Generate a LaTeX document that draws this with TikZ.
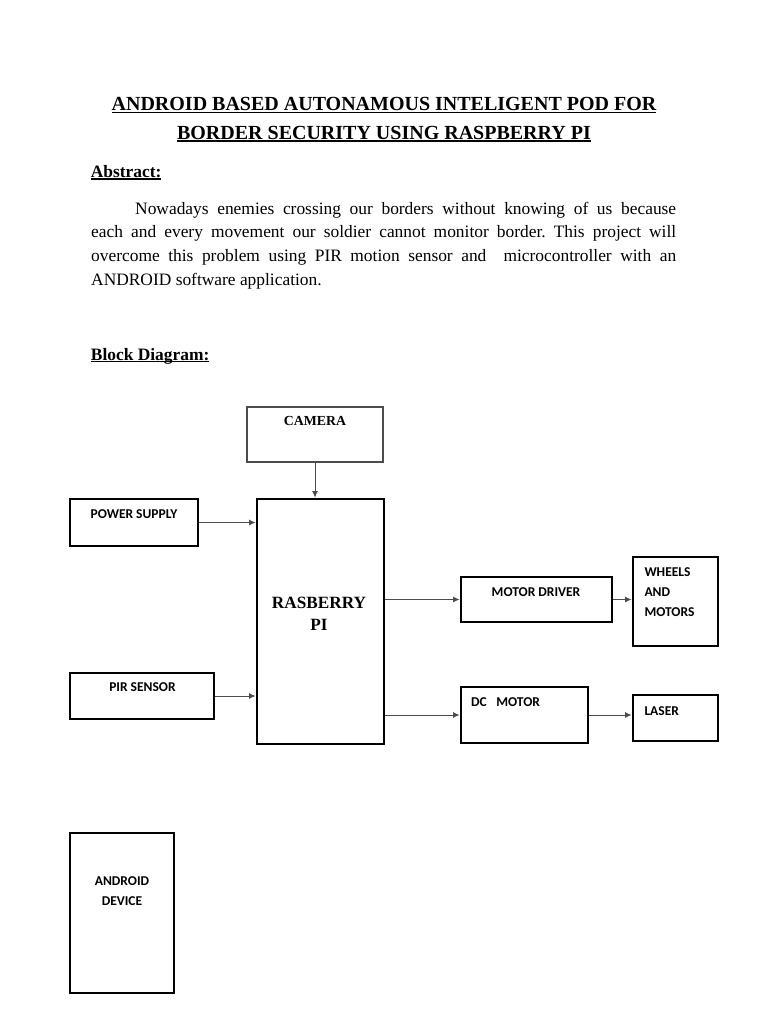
\documentclass[tikz,border=0pt]{standalone}
\usepackage{fontspec}
\setmainfont{Liberation Serif}
\newfontfamily\lblfont{Carlito}
\usetikzlibrary{arrows.meta}
\newsavebox\myulbox
\newcommand\myul[1]{\sbox\myulbox{#1}\rlap{\rule[-2.4pt]{\wd\myulbox}{1.2pt}}\usebox\myulbox}
\frenchspacing
\begin{document}
\begin{tikzpicture}[x=1pt,y=-1pt,
  blk/.style={draw=black,line width=2.8pt,rectangle,inner sep=0pt},
  thinblk/.style={draw=black!70,line width=1.2pt,rectangle,inner sep=0pt},
  lbl/.style={font=\lblfont\bfseries\fontsize{13.5}{20}\selectfont,inner sep=0pt,anchor=base},
  lblw/.style={lbl,anchor=base west},
  serlbl/.style={font=\bfseries\fontsize{13.8}{18}\selectfont,inner sep=0pt,anchor=base},
  bigl/.style={font=\bfseries\fontsize{17.2}{22}\selectfont,inner sep=0pt,anchor=base},
  ttl/.style={font=\bfseries\fontsize{20}{28}\selectfont,inner sep=0pt,anchor=base},
  head/.style={font=\bfseries\fontsize{17.4}{23.6}\selectfont,inner sep=0pt,anchor=base west},
  body/.style={font=\fontsize{17.4}{23.6}\selectfont,inner sep=0pt,anchor=base west},
  arr/.style={-{Latex[length=6.5pt,width=6pt]},line width=1pt,draw=black!70}]
\useasboundingbox[fill=white] (0,0) rectangle (768,1024);

% title and text
\node[ttl] (t1) at (384,111) {\myul{ANDROID BASED AUTONAMOUS INTELIGENT POD FOR}};
\node[ttl] (t2) at (384,139.3) {\myul{BORDER SECURITY USING RASPBERRY PI}};
\node[head] (abs) at (90.7,177.3) {\myul{Abstract:}};
\node[body] (b1) at (91,214.3) {\makebox[585pt][s]{\hspace*{44pt}Nowadays enemies crossing our borders without knowing of us because}};
\node[body] (b2) at (91,237.9) {\makebox[585pt][s]{each and every movement our soldier cannot monitor border. This project will}};
\node[body] (b3) at (91,261.5) {\makebox[585pt][s]{overcome this problem using PIR motion sensor and \ microcontroller with an}};
\node[body] (b4) at (91,285.1) {ANDROID software application.};
\node[head] (bd) at (90.7,360) {\myul{Block Diagram:}};

% boxes
\node[thinblk,minimum width=136pt,minimum height=55pt] (cam) at (315,434.5) {};
\node[blk,minimum width=128pt,minimum height=47pt] (pow) at (134,522.5) {};
\node[blk,minimum width=127pt,minimum height=245pt] (rpi) at (320.5,621.5) {};
\node[blk,minimum width=144pt,minimum height=46pt] (pir) at (142,696) {};
\node[blk,minimum width=151pt,minimum height=45pt] (md) at (536.5,599.5) {};
\node[blk,minimum width=85pt,minimum height=89pt] (wm) at (675.5,601.5) {};
\node[blk,minimum width=127pt,minimum height=56pt] (dc) at (524.5,715) {};
\node[blk,minimum width=85pt,minimum height=46pt] (las) at (675.5,718) {};
\node[blk,minimum width=104pt,minimum height=160pt] (andr) at (122,913) {};

% labels
\node[serlbl] (camL) at (315,425) {CAMERA};
\node[lbl] (powL) at (134,518) {POWER SUPPLY};
\node[bigl] (rpiL1) at (319,608.3) {RASBERRY};
\node[bigl] (rpiL2) at (319,630) {PI};
\node[lbl] (pirL) at (142.5,691.7) {PIR SENSOR};
\node[lbl] (mdL) at (536,596.7) {MOTOR DRIVER};
\node[lblw] (wmL1) at (644.3,576.7) {WHEELS};
\node[lblw] (wmL2) at (644.3,596.7) {AND};
\node[lblw] (wmL3) at (644.3,616.7) {MOTORS};
\node[lblw] (dcL) at (471,706.7) {DC\hspace{9.5pt}MOTOR};
\node[lblw] (lasL) at (644.3,715) {LASER};
\node[lbl] (andL1) at (122,885.7) {ANDROID};
\node[lbl] (andL2) at (122,905.7) {DEVICE};

% connectors
\draw[arr] (cam.south) -- (cam.south |- rpi.north);
\draw[arr] (pow.east) -- (pow.east -| rpi.west);
\draw[arr] (pir.east) -- (pir.east -| rpi.west);
\draw[arr] (rpi.east |- md.west) -- (md.west);
\draw[arr] (md.east) -- (md.east -| wm.west);
\draw[arr] (rpi.east |- dc.west) -- (dc.west);
\draw[arr] (dc.east) -- (dc.east -| las.west);
\end{tikzpicture}
\end{document}
